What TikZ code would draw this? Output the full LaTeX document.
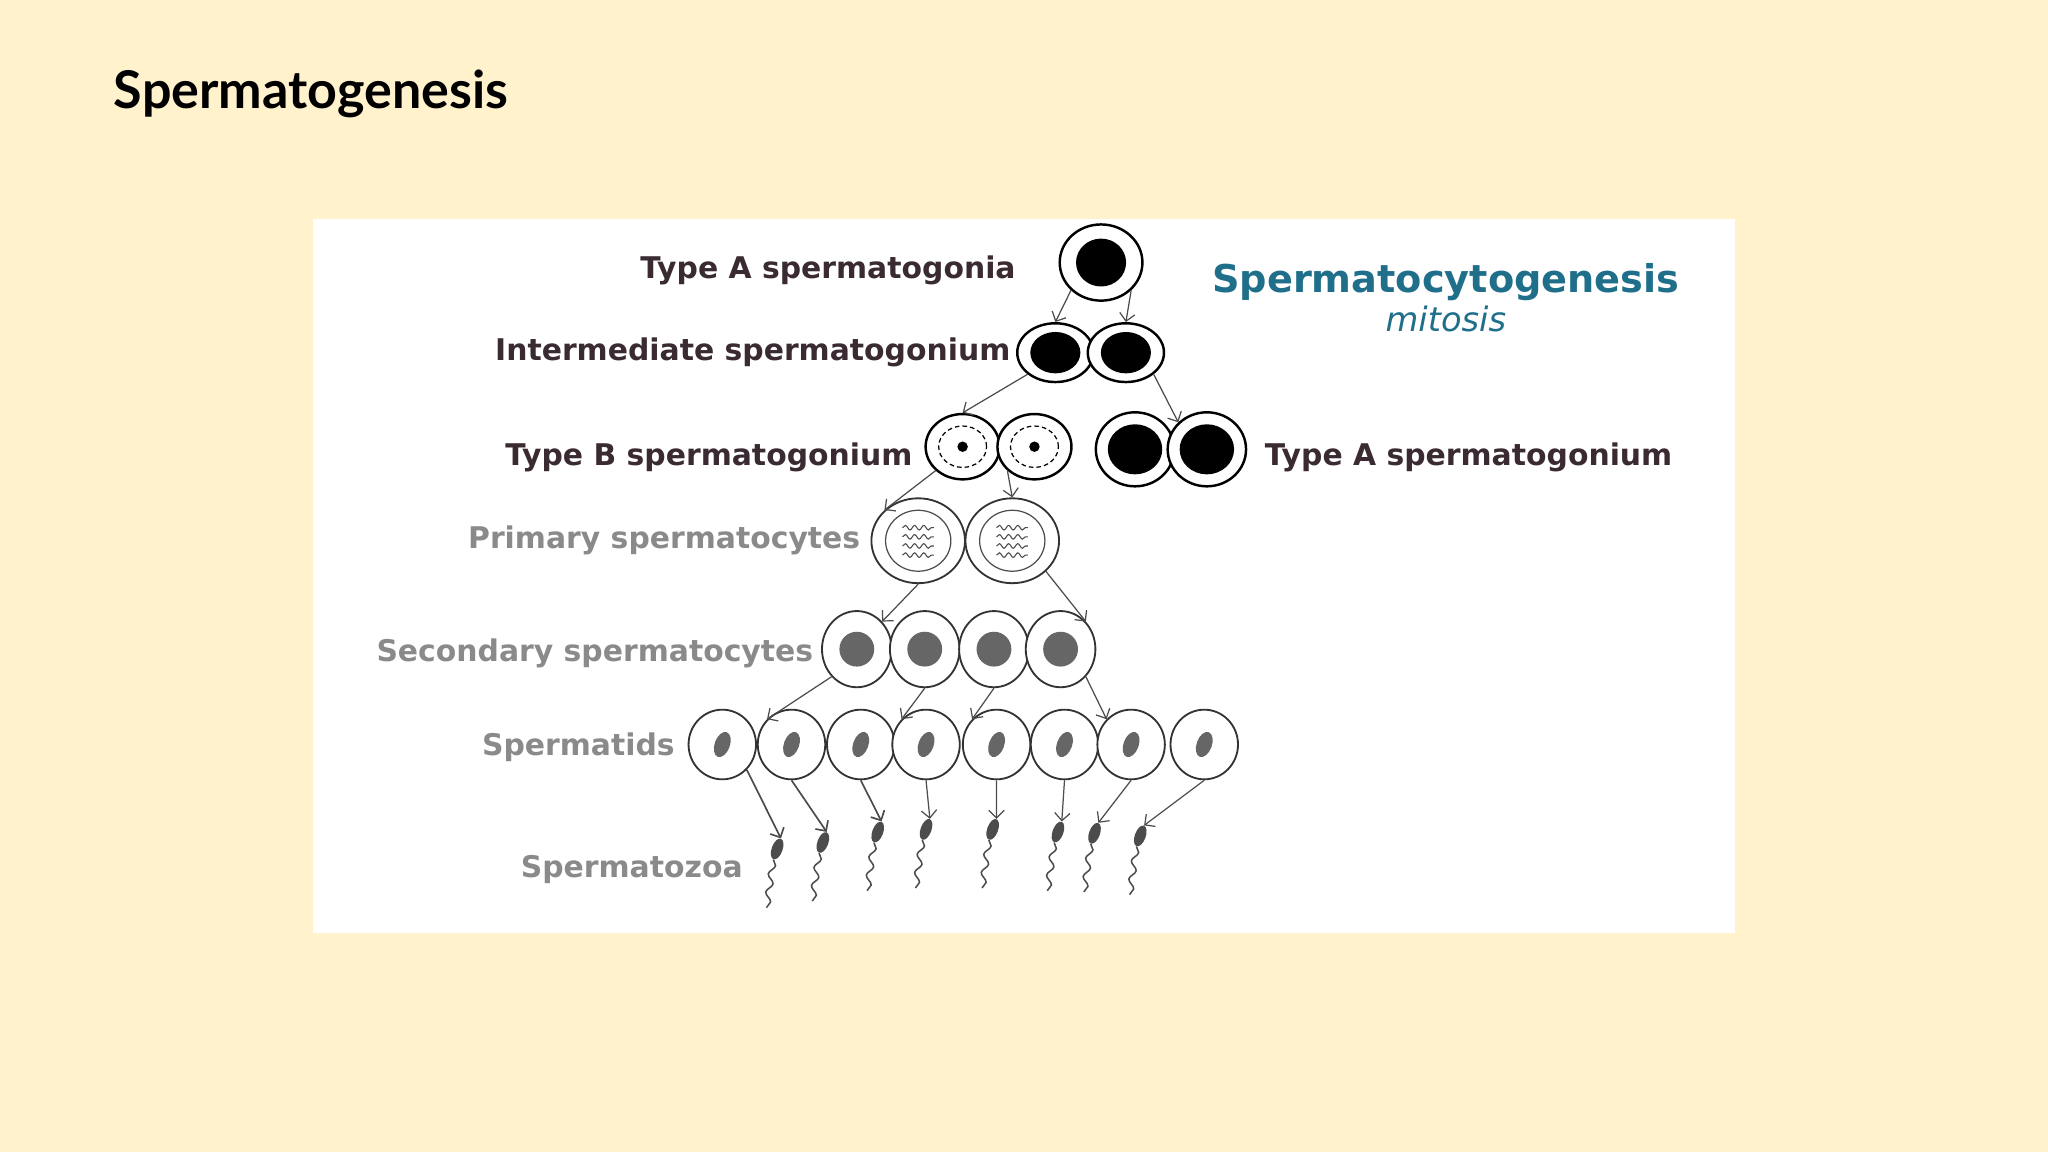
\documentclass[tikz,border=0pt]{standalone}
\usepackage{fontspec}
\setmainfont{Lato}
\newfontfamily\djv{DejaVu Sans}
\usetikzlibrary{shapes.geometric,arrows.meta,decorations.pathmorphing}
\definecolor{cream}{HTML}{FFF2CC}
\definecolor{dark}{HTML}{3A2A32}
\definecolor{lgrey}{HTML}{8A8A8A}
\definecolor{teal}{HTML}{1F6F8B}
\tikzset{
 lab/.style={font=\djv\bfseries\fontsize{19.5}{22}\selectfont, anchor=east, inner sep=1pt},
 cell/.style={ellipse, draw=black, line width=1.6pt, fill=white, inner sep=0pt},
 gcell/.style={ellipse, draw=black!80, line width=1.2pt, fill=white, inner sep=0pt},
 nuc/.style={ellipse, fill=black, inner sep=0pt},
 gnuc/.style={ellipse, fill=black!60, inner sep=0pt},
 arr/.style={-{Straight Barb[length=5pt]}, draw=black!70, line width=0.8pt},
 sperm/.style={ellipse, fill=black!70, inner sep=0pt, minimum width=0.25cm, minimum height=0.5cm},
 tail/.style={draw=black!70, line width=1pt, decorate, decoration={snake, amplitude=2pt, segment length=12pt}}
}
\begin{document}
\begin{tikzpicture}[x=0.03cm,y=-0.03cm]
\useasboundingbox (0,0) rectangle (1568,882);
\fill[cream] (0,0) rectangle (1568,882);
\fill[white] (240,168) rectangle (1328,714);
\node[anchor=west, inner sep=0pt, font=\bfseries\fontsize{34}{40}\selectfont] (title) at (87,72) {Spermatogenesis};
% labels
\node[lab, text=dark] (l1) at (779,207) {Type A spermatogonia};
\node[lab, text=dark] (l2) at (775,270) {Intermediate spermatogonium};
\node[lab, text=dark] (l3) at (700,350) {Type B spermatogonium};
\node[lab, text=dark, anchor=west] (l4) at (967,350) {Type A spermatogonium};
\node[lab, text=lgrey] (l5) at (660,414) {Primary spermatocytes};
\node[lab, text=lgrey] (l6) at (624,500) {Secondary spermatocytes};
\node[lab, text=lgrey] (l7) at (518,572) {Spermatids};
\node[lab, text=lgrey] (l8) at (570,666) {Spermatozoa};
\node[text=teal, font=\djv\bfseries\fontsize{25}{28}\selectfont] (t1) at (1107,216) {Spermatocytogenesis};
\node[text=teal, font=\djv\itshape\fontsize{22}{24}\selectfont] (t2) at (1107,244) {mitosis};
% type A top
\node[cell, minimum width=1.9cm, minimum height=1.75cm] (a0) at (843,201) {};
\node[nuc, minimum width=1.15cm, minimum height=1.1cm] at (843,201) {};
% intermediate
\foreach \n/\x in {i1/808,i2/862}{
 \node[cell, minimum width=1.75cm, minimum height=1.35cm] (\n) at (\x,270) {};
 \node[nuc, minimum width=1.15cm, minimum height=0.95cm] at (\x,270) {};}
% type B
\foreach \n/\x in {b1/737,b2/792}{
 \node[cell, minimum width=1.7cm, minimum height=1.5cm] (\n) at (\x,342) {};
 \node[ellipse, draw, line width=0.8pt, densely dashed, minimum width=1.1cm, minimum height=0.95cm] at (\x,342) {};
 \fill (\x,342) circle (4);}
% type A pair
\foreach \n/\x in {r1/869,r2/924}{
 \node[cell, minimum width=1.8cm, minimum height=1.7cm] (\n) at (\x,344) {};
 \node[nuc, minimum width=1.25cm, minimum height=1.15cm] at (\x,344) {};}
% primary
\foreach \n/\x in {p1/703,p2/775}{
 \node[gcell, minimum width=2.15cm, minimum height=1.95cm] (\n) at (\x,414) {};
 \node[ellipse, draw=black!70, line width=0.8pt, minimum width=1.5cm, minimum height=1.4cm] at (\x,414) {};
 \foreach \dy in {-10,-3,4,11}{\draw[black!70, line width=0.7pt, decorate, decoration={snake, amplitude=1.5pt, segment length=6pt}] (\x-12,414+\dy) -- (\x+12,414+\dy);}}
% secondary
\foreach \n/\x in {s1/656,s2/708,s3/761,s4/812}{
 \node[gcell, minimum width=1.6cm, minimum height=1.75cm] (\n) at (\x,497) {};
 \node[gnuc, minimum width=0.8cm, minimum height=0.8cm] at (\x,497) {};}
% spermatids
\foreach \n/\x in {d1/553,d2/606,d3/659,d4/709,d5/763,d6/815,d7/866,d8/922}{
 \node[gcell, minimum width=1.55cm, minimum height=1.6cm] (\n) at (\x,570) {};
 \node[gnuc, minimum width=0.35cm, minimum height=0.6cm, rotate=-20] at (\x,570) {};}
% spermatozoa
\foreach \n/\x/\y in {z1/595/650,z2/630/645,z3/672/637,z4/709/635,z5/760/635,z6/810/637,z7/838/638,z8/873/640}{
 \node[sperm, rotate=-20] (\n) at (\x,\y) {};
 \draw[tail] (\n.south) -- (\x-8,\y+45);}
% arrows
\draw[arr] (a0.south west) -- (i1.north);
\draw[arr] (a0.south east) -- (i2.north);
\draw[arr] (i1.south west) -- (b1.north);
\draw[arr] (i2.south east) -- (r2.north west);
\draw[arr] (b1.south west) -- (p1.north west);
\draw[arr] (b2.south west) -- (p2.north);
\draw[arr] (p1.south) -- (s1.north east);
\draw[arr] (p2.south east) -- (s4.north east);
\draw[arr] (s1.south west) -- (d2.north west);
\draw[arr] (s2.south) -- (d4.north west);
\draw[arr] (s3.south) -- (d5.north west);
\draw[arr] (s4.south east) -- (d7.north west);
\draw[arr, line width=1.1pt] (d1.south east) -- (z1.north);
\draw[arr, line width=1.1pt] (d2.south) -- (z2.north);
\draw[arr, line width=1.1pt] (d3.south) -- (z3.north);
\draw[arr] (d4.south) -- (z4.north);
\draw[arr] (d5.south) -- (z5.north);
\draw[arr] (d6.south) -- (z6.north);
\draw[arr] (d7.south) -- (z7.north);
\draw[arr] (d8.south) -- (z8.north);
\end{tikzpicture}
\end{document}
